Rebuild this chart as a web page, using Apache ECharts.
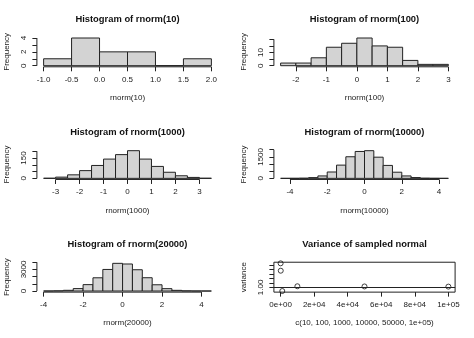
<!DOCTYPE html>
<html><head><meta charset="utf-8">
<script src="https://cdn.jsdelivr.net/npm/echarts@6/dist/echarts.min.js"></script>
<style>html,body{margin:0;padding:0;background:#fff}#c{width:474px;height:338px}</style>
</head><body><div id="c"></div>
<script>
// ---------- data ----------
const binWidth = 0.5;

const h10Start = -1;
const h10Counts = [1, 4, 2, 2, 0, 1];
const h10XTicks = [-1, -0.5, 0, 0.5, 1, 1.5, 2];
const h10XLabels = ["-1.0", "-0.5", "0.0", "0.5", "1.0", "1.5", "2.0"];
const h10YTicks = [0, 1, 2, 3, 4];
const h10YLabels = [0, 2, 4];

const h100Start = -2.5;
const h100Counts = [2, 2, 6, 14, 17, 21, 15, 14, 4, 1, 1];
const h100XTicks = [-2, -1, 0, 1, 2, 3];
const h100XLabels = ["-2", "-1", "0", "1", "2", "3"];
const h100YTicks = [0, 5, 10, 15, 20];
const h100YLabels = [0, 10];

const h1000Start = -3.5;
const h1000Counts = [1, 9, 26, 57, 95, 142, 175, 204, 142, 88, 45, 19, 7, 1];
const h1000XTicks = [-3, -2, -1, 0, 1, 2, 3];
const h1000XLabels = ["-3", "-2", "-1", "0", "1", "2", "3"];
const h1000YTicks = [0, 50, 100, 150, 200];
const h1000YLabels = [0, 150];

const h10000Start = -4.5;
const h10000Counts = [0, 2, 12, 52, 170, 445, 925, 1510, 1880, 1935, 1480, 905, 430, 170, 55, 12, 3, 1];
const h10000XTicks = [-4, -2, 0, 2, 4];
const h10000XLabels = ["-4", "-2", "0", "2", "4"];
const h10000YTicks = [0, 500, 1000, 1500, 2000];
const h10000YLabels = [0, 1500];

const h20000Start = -4;
const h20000Counts = [2, 25, 100, 340, 890, 1840, 3000, 3850, 3760, 2960, 1850, 870, 330, 95, 22, 4, 1];
const h20000XTicks = [-4, -2, 0, 2, 4];
const h20000XLabels = ["-4", "-2", "0", "2", "4"];
const h20000YTicks = [0, 1000, 2000, 3000, 4000];
const h20000YLabels = [0, 3000];

const sampleSizes = [10, 100, 1000, 10000, 50000, 100000];
const sampleVariances = [1.267, 1.185, 0.959, 1.012, 1.010, 1.008];
const varXTicks = [0, 20000, 40000, 60000, 80000, 100000];
const varXLabels = ["0e+00", "2e+04", "4e+04", "6e+04", "8e+04", "1e+05"];
const varYTicks = [1.00, 1.05, 1.10, 1.15, 1.20, 1.25];
const varYLabels = [1.00];

const titles = ["Histogram of rnorm(10)", "Histogram of rnorm(100)", "Histogram of rnorm(1000)",
  "Histogram of rnorm(10000)", "Histogram of rnorm(20000)", "Variance of sampled normal"];
const xNames = ["rnorm(10)", "rnorm(100)", "rnorm(1000)", "rnorm(10000)", "rnorm(20000)",
  "c(10, 100, 1000, 10000, 50000, 1e+05)"];
const yNames = ["Frequency", "Frequency", "Frequency", "Frequency", "Frequency", "variance"];

// ---------- layout ----------
const FONT = "'Liberation Sans', Arial, Helvetica, sans-serif";
const TXT = '#1a1a1a';
const LINE = '#222';
const rowH = 338 / 3, colW = 237, mL = 36.9, mT = 36.9, PW = 181.2, PH = 29.9;

const hists = [
  {start: h10Start, counts: h10Counts, xt: h10XTicks, xl: h10XLabels, yt: h10YTicks, yl: h10YLabels},
  {start: h100Start, counts: h100Counts, xt: h100XTicks, xl: h100XLabels, yt: h100YTicks, yl: h100YLabels},
  {start: h1000Start, counts: h1000Counts, xt: h1000XTicks, xl: h1000XLabels, yt: h1000YTicks, yl: h1000YLabels},
  {start: h10000Start, counts: h10000Counts, xt: h10000XTicks, xl: h10000XLabels, yt: h10000YTicks, yl: h10000YLabels},
  {start: h20000Start, counts: h20000Counts, xt: h20000XTicks, xl: h20000XLabels, yt: h20000YTicks, yl: h20000YLabels}
];

function lookup(ticks, labels) {
  return function (v) {
    for (let k = 0; k < ticks.length; k++) if (Math.abs(v - ticks[k]) < 1e-9) return labels[k];
    return '';
  };
}
function ext(lo, hi) { const r = hi - lo; return [lo - 0.04 * r, hi + 0.04 * r]; }

const grids = [], xAxes = [], yAxes = [], series = [], graphics = [];

function makeAxes(i, xr, yr, xt, xlFn, yt, ylVals, ylFn) {
  xAxes.push({
    gridIndex: i, type: 'value', min: xr[0], max: xr[1],
    axisLine: {show: false, onZero: false}, splitLine: {show: false},
    axisTick: {show: true, customValues: xt, length: 4.5, lineStyle: {color: LINE, width: 1}},
    axisLabel: {customValues: xt, formatter: xlFn, margin: 8.5, fontSize: 8, color: TXT, fontFamily: FONT, hideOverlap: false},
    name: xNames[i], nameLocation: 'middle', nameGap: 27, nameMoveOverlap: false,
    nameTextStyle: {fontSize: 8, color: TXT, fontFamily: FONT, verticalAlign: 'top'}
  });
  yAxes.push({
    gridIndex: i, type: 'value', min: yr[0], max: yr[1],
    axisLine: {show: false, onZero: false}, splitLine: {show: false},
    axisTick: {show: true, customValues: yt, length: 4.5, lineStyle: {color: LINE, width: 1}},
    axisLabel: {customValues: ylVals, formatter: ylFn, rotate: 90, margin: 9, fontSize: 8, color: TXT, fontFamily: FONT, hideOverlap: false},
    name: yNames[i], nameLocation: 'middle', nameGap: 26, nameMoveOverlap: false,
    nameTextStyle: {fontSize: 8, color: TXT, fontFamily: FONT}
  });
}

function axisLineSeries(i, xFrom, xTo, yFrom, yTo, xBase, yBase) {
  series.push({
    type: 'custom', xAxisIndex: i, yAxisIndex: i, clip: false, silent: true, z: 5,
    data: [[xFrom, yFrom]],
    renderItem: function (params, api) {
      const a = api.coord([xFrom, yBase]), b = api.coord([xTo, yBase]);
      const c = api.coord([xBase, yFrom]), d = api.coord([xBase, yTo]);
      return {type: 'group', children: [
        {type: 'line', shape: {x1: a[0], y1: a[1], x2: b[0], y2: b[1]}, style: {stroke: LINE, lineWidth: 1}},
        {type: 'line', shape: {x1: c[0], y1: c[1], x2: d[0], y2: d[1]}, style: {stroke: LINE, lineWidth: 1}}
      ]};
    }
  });
}

for (let i = 0; i < 6; i++) {
  const col = i % 2, row = Math.floor(i / 2);
  grids.push({left: col * colW + mL, top: row * rowH + mT, width: PW, height: PH,
    show: i === 5, borderColor: LINE, borderWidth: 1, outerBoundsMode: 'none', containLabel: false});
  graphics.push({type: 'text', x: col * colW + mL + PW / 2, y: row * rowH + 19.3,
    style: {text: titles[i], textAlign: 'center', textVerticalAlign: 'middle',
      font: 'bold 9.4px ' + FONT, fill: '#111'}});
}

hists.forEach(function (h, i) {
  const n = h.counts.length;
  const xr = ext(h.start, h.start + n * binWidth);
  const yr = ext(0, Math.max.apply(null, h.counts));
  makeAxes(i, xr, yr, h.xt, lookup(h.xt, h.xl), h.yt, h.yl, function (v) { return String(v); });
  series.push({
    type: 'custom', xAxisIndex: i, yAxisIndex: i, clip: false, z: 3,
    data: h.counts.map(function (c, k) { return [h.start + k * binWidth, h.start + (k + 1) * binWidth, c]; }),
    encode: {x: [0, 1], y: 2},
    renderItem: function (params, api) {
      const p0 = api.coord([api.value(0), 0]);
      const p1 = api.coord([api.value(1), api.value(2)]);
      return {type: 'rect', shape: {x: p0[0], y: p1[1], width: p1[0] - p0[0], height: p0[1] - p1[1]},
        style: {fill: '#d3d3d3', stroke: LINE, lineWidth: 1}};
    }
  });
  axisLineSeries(i, h.xt[0], h.xt[h.xt.length - 1], h.yt[0], h.yt[h.yt.length - 1], xr[0], yr[0]);
});

// variance panel
(function () {
  const i = 5;
  const xr = ext(Math.min.apply(null, sampleSizes), Math.max.apply(null, sampleSizes));
  const yr = ext(Math.min.apply(null, sampleVariances), Math.max.apply(null, sampleVariances));
  makeAxes(i, xr, yr, varXTicks, lookup(varXTicks, varXLabels), varYTicks, varYLabels,
    function (v) { return v.toFixed(2); });
  series.push({
    type: 'scatter', xAxisIndex: i, yAxisIndex: i, symbol: 'circle', symbolSize: 5,
    itemStyle: {color: 'rgba(0,0,0,0)', borderColor: '#111', borderWidth: 1},
    data: sampleSizes.map(function (s, k) { return [s, sampleVariances[k]]; }),
    markLine: {silent: true, symbol: 'none', label: {show: false},
      lineStyle: {color: LINE, width: 1, type: 'solid'}, data: [{yAxis: 1}]}
  });
})();

const chart = echarts.init(document.getElementById('c'), null, {renderer: 'canvas'});
chart.setOption({
  backgroundColor: '#fff', animation: false,
  grid: grids, xAxis: xAxes, yAxis: yAxes, series: series, graphic: graphics
});
</script>
</body></html>
